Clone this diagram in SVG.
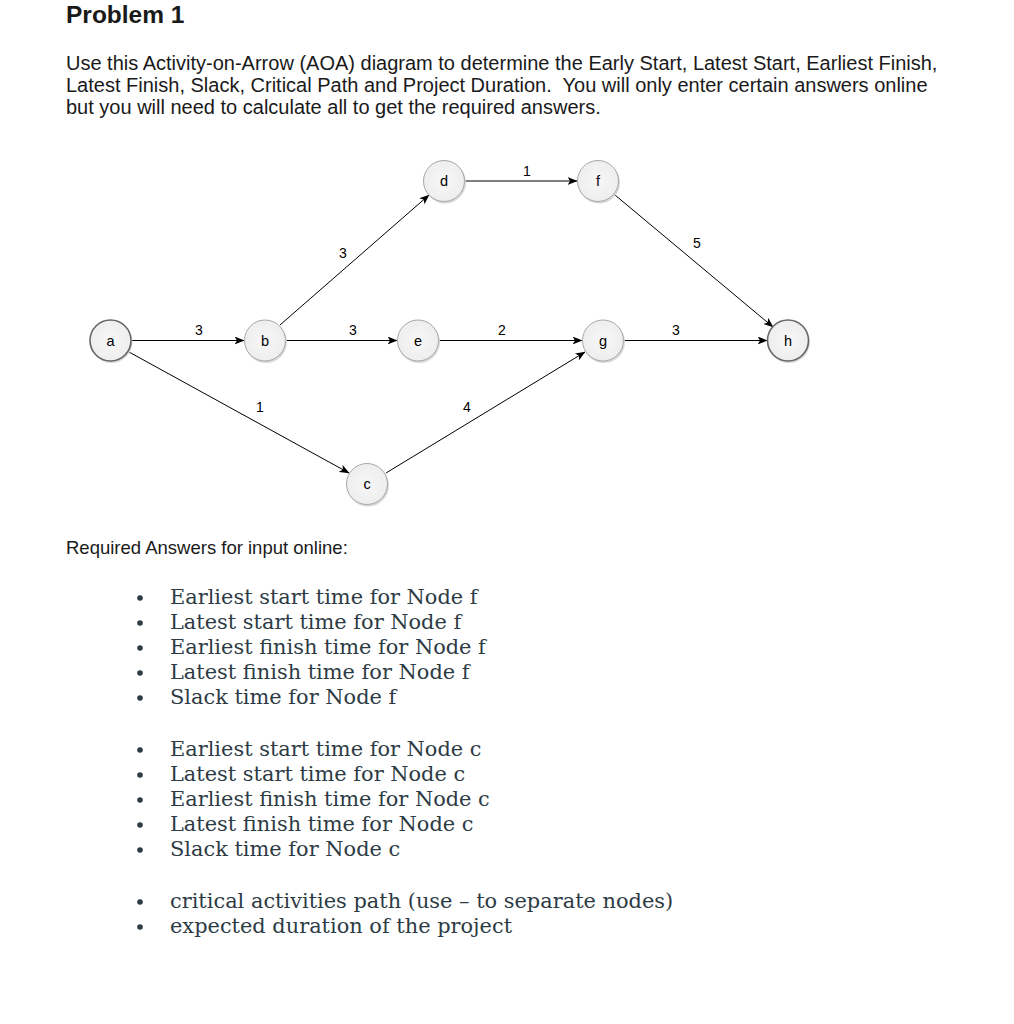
<svg xmlns="http://www.w3.org/2000/svg" width="1014" height="1024" viewBox="0 0 1014 1024">
<style>
.title{font-family:"Liberation Sans",Arial,sans-serif;font-weight:bold;font-size:24.5px;fill:#1a1a1a}
.body{font-family:"Liberation Sans",Arial,sans-serif;font-size:20px;fill:#1a1a1a;white-space:pre}
.req{font-family:"Liberation Sans",Arial,sans-serif;font-size:18.5px;fill:#1a1a1a}
.nl{font-family:"Liberation Sans",Arial,sans-serif;font-size:14.5px;fill:#000;text-anchor:middle}
.el{font-family:"Liberation Sans",Arial,sans-serif;font-size:14px;fill:#000;text-anchor:middle}
.li{font-family:"DejaVu Serif",serif;font-size:20.9px;fill:#2d3b45}
.node{fill:url(#ng);stroke:#a8a8a8;stroke-width:1}
.end{fill:url(#ng);stroke:#666;stroke-width:1.6}
.shadow{fill:#d8d8d8}
.edge{stroke:#000;stroke-width:1;fill:none;marker-end:url(#arr)}
.bul{fill:#2d3b45}
</style>
<defs>
<radialGradient id="ng" cx="50%" cy="50%" r="60%">
<stop offset="0" stop-color="#f7f7f7"/>
<stop offset="1" stop-color="#ececec"/>
</radialGradient>
<marker id="arr" viewBox="0 0 10 8" refX="9.5" refY="4" markerWidth="10" markerHeight="8" markerUnits="userSpaceOnUse" orient="auto">
<path d="M0,0 L10,4 L0,8 L2.5,4 Z" fill="#000"/>
</marker>
</defs>
<rect width="1014" height="1024" fill="#fff"/>
<text class="title" x="66" y="23">Problem 1</text>
<text class="body" x="66" y="70">Use this Activity-on-Arrow (AOA) diagram to determine the Early Start, Latest Start, Earliest Finish,</text>
<text class="body" x="66" y="92" xml:space="preserve">Latest Finish, Slack, Critical Path and Project Duration.  You will only enter certain answers online</text>
<text class="body" x="66" y="114">but you will need to calculate all to get the required answers.</text>

<g id="connectors">
<line class="edge" x1="131" y1="340.5" x2="244" y2="340.5"/>
<line class="edge" x1="286" y1="340.5" x2="397" y2="340.5"/>
<line class="edge" x1="280" y1="325" x2="429" y2="195"/>
<line class="edge" x1="465" y1="181" x2="577" y2="181"/>
<line class="edge" x1="615" y1="195" x2="773" y2="327"/>
<line class="edge" x1="439" y1="340.5" x2="582" y2="340.5"/>
<line class="edge" x1="624" y1="340.5" x2="767" y2="340.5"/>
<line class="edge" x1="129" y1="352" x2="349" y2="473"/>
<line class="edge" x1="386" y1="473" x2="585" y2="352"/>
<text class="el" x="199" y="335">3</text>
<text class="el" x="353" y="335">3</text>
<text class="el" x="343" y="258">3</text>
<text class="el" x="527" y="176">1</text>
<text class="el" x="697" y="248">5</text>
<text class="el" x="502" y="335">2</text>
<text class="el" x="676" y="335">3</text>
<text class="el" x="260" y="412">1</text>
<text class="el" x="467" y="412">4</text>
</g>

<g id="node-a"><circle class="shadow" cx="111.5" cy="342" r="21"/><circle class="end" cx="110.5" cy="340.5" r="20.5"/><text class="nl" x="110.5" y="345.5">a</text></g>
<g id="node-b"><circle class="shadow" cx="266" cy="342" r="21"/><circle class="node" cx="265" cy="340.5" r="20.5"/><text class="nl" x="265" y="345.5">b</text></g>
<g id="node-c"><circle class="shadow" cx="368" cy="485.5" r="21"/><circle class="node" cx="367" cy="484" r="20.5"/><text class="nl" x="367" y="489">c</text></g>
<g id="node-d"><circle class="shadow" cx="445" cy="182.5" r="21"/><circle class="node" cx="444" cy="181" r="20.5"/><text class="nl" x="444" y="186">d</text></g>
<g id="node-e"><circle class="shadow" cx="419" cy="342" r="21"/><circle class="node" cx="418" cy="340.5" r="20.5"/><text class="nl" x="418" y="345.5">e</text></g>
<g id="node-f"><circle class="shadow" cx="599" cy="182.5" r="21"/><circle class="node" cx="598" cy="181" r="20.5"/><text class="nl" x="598" y="186">f</text></g>
<g id="node-g"><circle class="shadow" cx="604" cy="342" r="21"/><circle class="node" cx="603" cy="340.5" r="20.5"/><text class="nl" x="603" y="345.5">g</text></g>
<g id="node-h"><circle class="shadow" cx="789" cy="342" r="21"/><circle class="end" cx="788" cy="340.5" r="20.5"/><text class="nl" x="788" y="345.5">h</text></g>

<text class="req" x="66" y="554">Required Answers for input online:</text>

<g>
<circle class="bul" cx="140" cy="598" r="2.8"/>
<circle class="bul" cx="140" cy="623" r="2.8"/>
<circle class="bul" cx="140" cy="648" r="2.8"/>
<circle class="bul" cx="140" cy="673" r="2.8"/>
<circle class="bul" cx="140" cy="698" r="2.8"/>
<circle class="bul" cx="140" cy="750" r="2.8"/>
<circle class="bul" cx="140" cy="775" r="2.8"/>
<circle class="bul" cx="140" cy="800" r="2.8"/>
<circle class="bul" cx="140" cy="825" r="2.8"/>
<circle class="bul" cx="140" cy="850" r="2.8"/>
<circle class="bul" cx="140" cy="902" r="2.8"/>
<circle class="bul" cx="140" cy="927" r="2.8"/>
</g>
<text class="li" x="170" y="604">Earliest start time for Node f</text>
<text class="li" x="170" y="629">Latest start time for Node f</text>
<text class="li" x="170" y="654">Earliest finish time for Node f</text>
<text class="li" x="170" y="679">Latest finish time for Node f</text>
<text class="li" x="170" y="704">Slack time for Node f</text>
<text class="li" x="170" y="756">Earliest start time for Node c</text>
<text class="li" x="170" y="781">Latest start time for Node c</text>
<text class="li" x="170" y="806">Earliest finish time for Node c</text>
<text class="li" x="170" y="831">Latest finish time for Node c</text>
<text class="li" x="170" y="856">Slack time for Node c</text>
<text class="li" x="170" y="908">critical activities path (use – to separate nodes)</text>
<text class="li" x="170" y="933">expected duration of the project</text>
</svg>
